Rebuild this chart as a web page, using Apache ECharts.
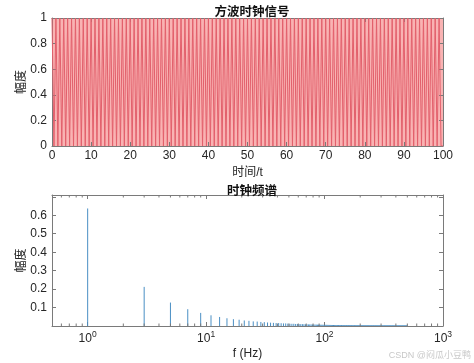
<!DOCTYPE html>
<html><head><meta charset="utf-8">
<script src="https://cdn.jsdelivr.net/npm/echarts@6/dist/echarts.min.js"></script>
<style>html,body{margin:0;padding:0;background:#fff}#c{width:474px;height:363px}</style>
</head><body><div id="c"></div>
<script>
// ---- data ----
const clockTitle = '方波时钟信号';
const spectrumTitle = '时钟频谱';
const yName = '幅度';
const timeName = '时间/t';
const freqName = 'f (Hz)';
const watermark = 'CSDN @闷瓜小豆鸭';
const timeTicks = [0, 10, 20, 30, 40, 50, 60, 70, 80, 90, 100];
const clockHalfPeriod = 0.5; // s per level
const clockLevels = [
1,0,1,0,1,0,1,0,1,0, 1,0,1,0,1,0,1,0,1,0,
1,0,1,0,1,0,1,0,1,0, 1,0,1,0,1,0,1,0,1,0,
1,0,1,0,1,0,1,0,1,0, 1,0,1,0,1,0,1,0,1,0,
1,0,1,0,1,0,1,0,1,0, 1,0,1,0,1,0,1,0,1,0,
1,0,1,0,1,0,1,0,1,0, 1,0,1,0,1,0,1,0,1,0,
1,0,1,0,1,0,1,0,1,0, 1,0,1,0,1,0,1,0,1,0,
1,0,1,0,1,0,1,0,1,0, 1,0,1,0,1,0,1,0,1,0,
1,0,1,0,1,0,1,0,1,0, 1,0,1,0,1,0,1,0,1,0,
1,0,1,0,1,0,1,0,1,0, 1,0,1,0,1,0,1,0,1,0,
1,0,1,0,1,0,1,0,1,0, 1,0,1,0,1,0,1,0,1,0
];
// odd harmonics 1,3,5,... amplitudes
const harmonicAmplitudes = [
.637,.212,.127,.091,.071,.058,.049,.042,.037,.034,
.030,.028,.025,.024,.022,.021,.019,.018,.017,.016,
.016,.015,.014,.014,.013,.012,.012,.012,.011,.011,
.010,.010,.010,.0095,.0092,.0090,.0087,.0085,.0083,.0081,
.0079,.0077,.0075,.0073,.0072,.0070,.0068,.0067,.0066,.0064,
.0063,.0062,.0061,.0060,.0058,.0057,.0056,.0055,.0054,.0053,
.0053,.0052,.0051,.0050,.0049,.0049,.0048,.0047,.0046,.0046,
.0045,.0045,.0044,.0043,.0043,.0042,.0042,.0041,.0041,.0040,
.0040,.0039,.0039,.0038,.0038,.0037,.0037,.0036,.0036,.0036,
.0035,.0035,.0034,.0034,.0034,.0033,.0033,.0033,.0032,.0032,
.0032,.0031,.0031,.0031,.0030,.0030,.0030,.0029,.0029,.0029,
.0029,.0028,.0028,.0028,.0028,.0028,.0027,.0027,.0027,.0027,
.0026,.0026,.0026,.0026,.0026,.0025,.0025,.0025,.0025,.0025,
.0024,.0024,.0024,.0024,.0024,.0023,.0023,.0023,.0023,.0023,
.0023,.0022,.0022,.0022,.0022,.0022,.0022,.0021,.0021,.0021,
.0021,.0021,.0021,.0021,.0021,.0020,.0020,.0020,.0020,.0020,
.0020,.0020,.0019,.0019,.0019,.0019,.0019,.0019,.0019,.0019,
.0019,.0018,.0018,.0018,.0018,.0018,.0018,.0018,.0018,.0018,
.0018,.0017,.0017,.0017,.0017,.0017,.0017,.0017,.0017,.0017,
.0017,.0017,.0016,.0016,.0016,.0016,.0016,.0016,.0016,.0016,
.0016,.0016,.0016,.0016,.0016,.0015,.0015,.0015,.0015,.0015,
.0015,.0015,.0015,.0015,.0015,.0015,.0015,.0015,.0015,.0015,
.0014,.0014,.0014,.0014,.0014,.0014,.0014,.0014,.0014,.0014,
.0014,.0014,.0014,.0014,.0014,.0014,.0013,.0013,.0013,.0013,
.0013,.0013,.0013,.0013,.0013,.0013,.0013,.0013,.0013,.0013
];
const minorTickFreqs = [0.6,0.7,0.8,0.9, 2,3,4,5,6,7,8,9, 20,30,40,50,60,70,80,90, 200,300,400,500,600,700,800,900];

// ---- build ----
const clockData = clockLevels.map((v, i) => [i * clockHalfPeriod, v]);
clockData.push([clockLevels.length * clockHalfPeriod, clockLevels[clockLevels.length - 1]]);
const spectrumData = harmonicAmplitudes.map((a, i) => [2 * i + 1, a]);

const FONT = '"Liberation Sans", Arial, "Noto Sans CJK SC", sans-serif';
const AX = '#7a7a7a';
const TXT = '#262626';

function boxAxis(extra) {
  return Object.assign({
    axisLine: { show: true, onZero: false, lineStyle: { color: AX, width: 1 } },
    axisTick: { show: true, inside: true, length: 4, lineStyle: { color: AX } },
    splitLine: { show: false },
    axisLabel: { show: false },
    nameMoveOverlap: false
  }, extra);
}
const lbl = { color: TXT, fontSize: 12, fontFamily: FONT };
const nameStyle = { color: TXT, fontSize: 12, fontFamily: FONT };

const chart = echarts.init(document.getElementById('c'), null, { renderer: 'canvas' });
chart.setOption({
  animation: false,
  backgroundColor: '#fff',
  title: [
    { text: clockTitle, left: 247, top: 1, textAlign: 'center',
      textStyle: { fontSize: 12.5, fontWeight: 'bold', color: '#111', fontFamily: FONT } },
    { text: spectrumTitle, left: 247, top: 180, textAlign: 'center',
      textStyle: { fontSize: 12.5, fontWeight: 'bold', color: '#111', fontFamily: FONT } }
  ],
  grid: [
    { left: 52, top: 18, width: 391, height: 128, show: true, backgroundColor: '#f9b3b3', borderWidth: 0 },
    { left: 52, top: 195, width: 391, height: 131 }
  ],
  xAxis: [
    boxAxis({ type: 'value', gridIndex: 0, position: 'bottom', min: timeTicks[0], max: timeTicks[timeTicks.length - 1], interval: 10,
      axisLabel: Object.assign({ show: true, margin: 4 }, lbl),
      name: timeName, nameLocation: 'middle', nameGap: 21, nameTextStyle: nameStyle }),
    boxAxis({ type: 'value', gridIndex: 0, position: 'top', min: 0, max: 100, interval: 10 }),
    boxAxis({ type: 'log', logBase: 10, gridIndex: 1, position: 'bottom', min: 0.5, max: 1000, splitNumber: 3,
      axisLabel: {
        show: true, margin: 4, showMinLabel: false,
        formatter: function (v) {
          const e = Math.log10(v);
          const r = Math.round(e);
          if (Math.abs(e - r) > 1e-6) return '';
          return '{b|10}{s|' + r + '}';
        },
        rich: {
          b: { fontSize: 12, color: TXT, fontFamily: FONT },
          s: { fontSize: 8.5, color: TXT, fontFamily: FONT, padding: [0, 0, 8, 0] }
        }
      },
      name: freqName, nameLocation: 'middle', nameGap: 22, nameTextStyle: nameStyle }),
    boxAxis({ type: 'log', logBase: 10, gridIndex: 1, position: 'top', min: 0.5, max: 1000, splitNumber: 3 })
  ],
  yAxis: [
    boxAxis({ type: 'value', gridIndex: 0, position: 'left', min: 0, max: 1, interval: 0.2,
      axisLabel: Object.assign({ show: true, margin: 5 }, lbl),
      name: yName, nameLocation: 'middle', nameGap: 24, nameRotate: 90, nameTextStyle: nameStyle }),
    boxAxis({ type: 'value', gridIndex: 0, position: 'right', min: 0, max: 1, interval: 0.2 }),
    boxAxis({ type: 'value', gridIndex: 1, position: 'left', min: 0, max: 0.71, interval: 0.1,
      axisLabel: Object.assign({ show: true, margin: 5,
        formatter: function (v) { return (v < 0.05 || v > 0.65) ? '' : v.toFixed(1); } }, lbl),
      name: yName, nameLocation: 'middle', nameGap: 24, nameRotate: 90, nameTextStyle: nameStyle }),
    boxAxis({ type: 'value', gridIndex: 1, position: 'right', min: 0, max: 0.71, interval: 0.1 })
  ],
  series: [
    { type: 'line', xAxisIndex: 0, yAxisIndex: 0, data: clockData, step: 'end', symbol: 'none',
      lineStyle: { color: '#e2606c', width: 1 } },
    { type: 'custom', xAxisIndex: 2, yAxisIndex: 2, data: spectrumData,
      encode: { x: 0, y: 1 },
      renderItem: function (params, api) {
        const f = api.value(0), a = api.value(1);
        const p0 = api.coord([f, 0]);
        const p1 = api.coord([f, a]);
        return { type: 'line', shape: { x1: p0[0], y1: p0[1], x2: p1[0], y2: p1[1] },
          style: { stroke: '#4a8fc4', lineWidth: 1 } };
      } },
    { type: 'custom', xAxisIndex: 2, yAxisIndex: 2, data: minorTickFreqs.map(f => [f, 0]),
      encode: { x: 0, y: 1 }, silent: true,
      renderItem: function (params, api) {
        const cs = params.coordSys;
        const x = api.coord([api.value(0), 0])[0];
        return { type: 'group', children: [
          { type: 'line', shape: { x1: x, y1: cs.y + cs.height, x2: x, y2: cs.y + cs.height - 2.5 }, style: { stroke: AX, lineWidth: 1 } },
          { type: 'line', shape: { x1: x, y1: cs.y, x2: x, y2: cs.y + 2.5 }, style: { stroke: AX, lineWidth: 1 } }
        ] };
      } }
  ],
  graphic: [
    { type: 'text', right: 3, bottom: 3,
      style: { text: watermark, fill: '#c8c8c8', fontSize: 9, fontFamily: FONT } }
  ]
});
</script>
</body></html>
